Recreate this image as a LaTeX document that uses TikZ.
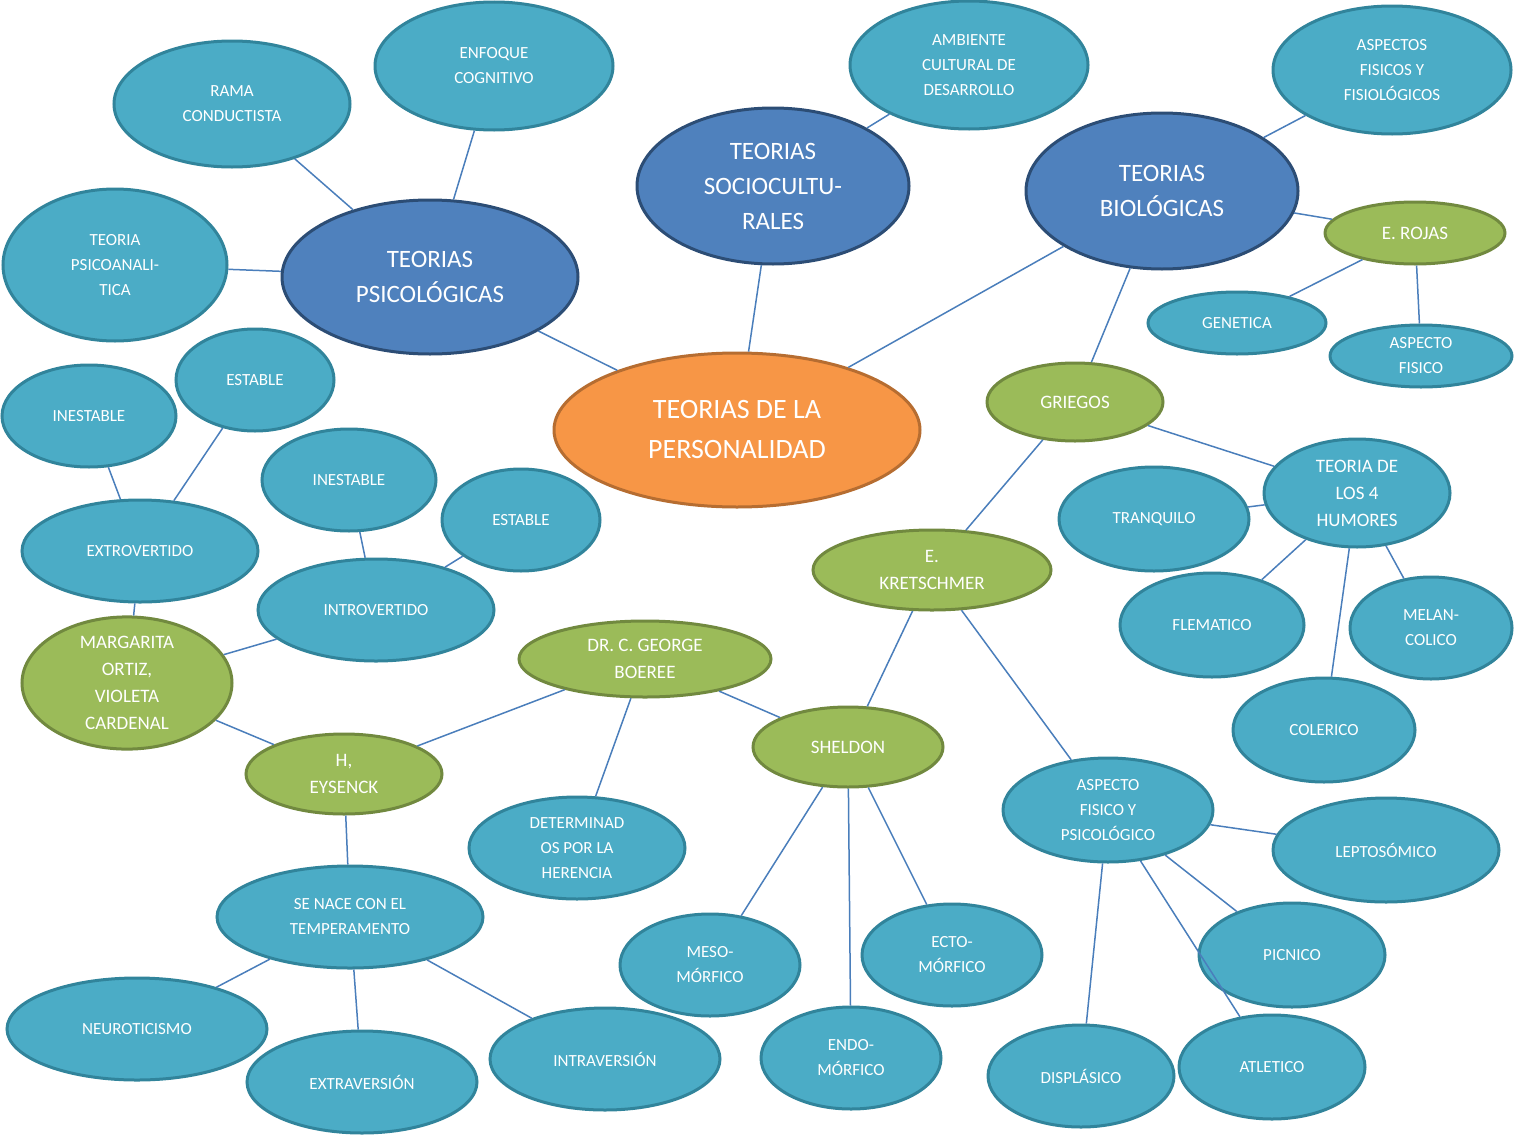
\documentclass[tikz,border=0pt]{standalone}
\usepackage{fontspec}
\setmainfont{Carlito}
\usetikzlibrary{shapes.geometric}
\definecolor{tealf}{HTML}{4BACC6}\definecolor{teald}{HTML}{31849B}
\definecolor{bluef}{HTML}{4F81BD}\definecolor{blued}{HTML}{2C4D75}
\definecolor{greenf}{HTML}{9BBB59}\definecolor{greend}{HTML}{71893F}
\definecolor{orangef}{HTML}{F79646}\definecolor{oranged}{HTML}{B66D31}
\definecolor{linec}{HTML}{4A7EBB}
\tikzset{
 base/.style={ellipse,inner sep=0pt,align=center,text=white,line width=3pt},
 te/.style={base,fill=tealf,draw=teald,font=\fontsize{17}{25}\selectfont},
 bl/.style={base,fill=bluef,draw=blued,font=\fontsize{25}{35}\selectfont},
 gr/.style={base,fill=greenf,draw=greend,font=\fontsize{19}{27}\selectfont},
 orn/.style={base,fill=orangef,draw=oranged,font=\fontsize{28}{40}\selectfont},
 sz/.style 2 args={minimum width=#1,minimum height=#2},
 ln/.style={draw=linec,line width=1.5pt}
}
\begin{document}
\begin{tikzpicture}[x=1pt,y=-1pt]
\useasboundingbox (0,0) rectangle (1515,1135);
\node[te,sz={236}{126}] (rama) at (232,104) {RAMA\\CONDUCTISTA};
\node[te,sz={238}{128}] (enf) at (494,66) {ENFOQUE\\COGNITIVO};
\node[te,sz={224}{152}] (psa) at (115,265) {TEORIA\\PSICOANALI-\\TICA};
\node[bl,sz={296}{154}] (psi) at (430,277) {TEORIAS\\PSICOLÓGICAS};
\node[bl,sz={272}{156}] (soc) at (773,186) {TEORIAS\\SOCIOCULTU-\\RALES};
\node[te,sz={238}{128}] (amb) at (969,65) {AMBIENTE\\CULTURAL DE\\DESARROLLO};
\node[te,sz={238}{128}] (asp) at (1392,70) {ASPECTOS\\FISICOS Y\\FISIOLÓGICOS};
\node[bl,sz={272}{156}] (bio) at (1162,191) {TEORIAS\\BIOLÓGICAS};
\node[gr,sz={180}{62}] (roj) at (1415,233) {E. ROJAS};
\node[te,sz={178}{62}] (gen) at (1237,323) {GENETICA};
\node[te,sz={182}{62}] (afi) at (1421,356) {ASPECTO\\FISICO};
\node[orn,sz={366}{154}] (per) at (737,430) {TEORIAS DE LA\\PERSONALIDAD};
\node[gr,sz={176}{78}] (gri) at (1075,402) {GRIEGOS};
\node[te,sz={158}{102}] (est1) at (255,380) {ESTABLE};
\node[te,sz={174}{102}] (ine1) at (89,416) {INESTABLE};
\node[te,sz={174}{102}] (ine2) at (349,480) {INESTABLE};
\node[te,sz={158}{102}] (est2) at (521,520) {ESTABLE};
\node[te,sz={236}{102}] (ext) at (140,551) {EXTROVERTIDO};
\node[te,sz={236}{102}] (int) at (376,610) {INTROVERTIDO};
\node[gr,sz={210}{112}] (mar) at (127,683) {MARGARITA\\ORTIZ,\\VIOLETA\\CARDENAL};
\node[gr,sz={252}{76}] (boe) at (645,659) {DR. C. GEORGE\\BOEREE};
\node[gr,sz={196}{80}] (eys) at (344,774) {H,\\EYSENCK};
\node[gr,sz={238}{80}] (kre) at (932,570) {E.\\KRETSCHMER};
\node[te,sz={186}{108},font=\fontsize{19}{27}\selectfont] (hum) at (1357,493) {TEORIA DE\\LOS 4\\HUMORES};
\node[te,sz={190}{104}] (tra) at (1154,519) {TRANQUILO};
\node[te,sz={184}{104}] (fle) at (1212,625) {FLEMATICO};
\node[te,sz={162}{102}] (mel) at (1431,628) {MELAN-\\COLICO};
\node[te,sz={182}{104}] (col) at (1324,730) {COLERICO};
\node[gr,sz={190}{80}] (she) at (848,747) {SHELDON};
\node[te,sz={216}{102}] (det) at (577,848) {DETERMINAD\\OS POR LA\\HERENCIA};
\node[te,sz={210}{104}] (afp) at (1108,810) {ASPECTO\\FISICO Y\\PSICOLÓGICO};
\node[te,sz={226}{104}] (lep) at (1386,850) {LEPTOSÓMICO};
\node[te,sz={266}{102}] (nac) at (350,917) {SE NACE CON EL\\TEMPERAMENTO};
\node[te,sz={180}{102}] (mes) at (710,965) {MESO-\\MÓRFICO};
\node[te,sz={180}{102}] (ect) at (952,955) {ECTO-\\MÓRFICO};
\node[te,sz={186}{104}] (pic) at (1292,955) {PICNICO};
\node[te,sz={260}{102}] (neu) at (137,1029) {NEUROTICISMO};
\node[te,sz={230}{102}] (exa) at (362,1082) {EXTRAVERSIÓN};
\node[te,sz={230}{102}] (ina) at (605,1059) {INTRAVERSIÓN};
\node[te,sz={180}{102}] (end) at (851,1058) {ENDO-\\MÓRFICO};
\node[te,sz={186}{102}] (dis) at (1081,1076) {DISPLÁSICO};
\node[te,sz={186}{104}] (atl) at (1272,1067) {ATLETICO};
\foreach \a/\b in {psi/rama,psi/enf,psi/psa,psi/per,soc/amb,soc/per,bio/asp,bio/roj,bio/gri,per/bio,
 roj/gen,roj/afi,gri/hum,tra/hum,gri/kre,hum/fle,hum/mel,hum/col,kre/she,kre/afp,
 est1/ext,ine1/ext,ext/mar,ine2/int,est2/int,int/mar,mar/eys,eys/boe,boe/det,boe/she,
 eys/nac,nac/neu,nac/exa,nac/ina,she/mes,she/ect,she/end,afp/lep,afp/pic,afp/dis,afp/atl}
 \draw[ln] (\a) -- (\b);
\end{tikzpicture}
\end{document}
